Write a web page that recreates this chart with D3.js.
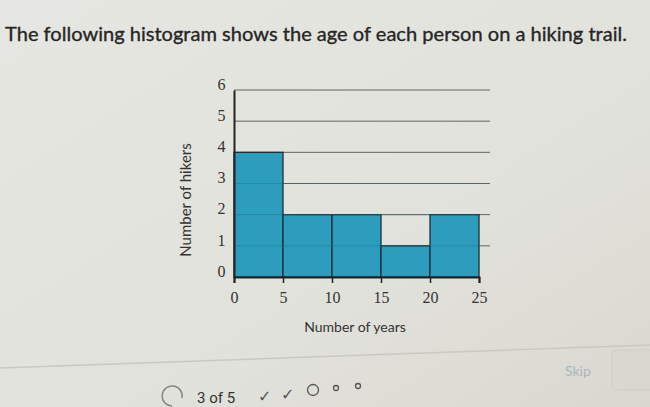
<!DOCTYPE html>
<html><head><meta charset="utf-8">
<script src="https://cdn.jsdelivr.net/npm/d3@7"></script>
<style>html,body{margin:0;padding:0;background:#e3e3dd;overflow:hidden}</style>
</head><body>
<script>
const binStarts = [0, 5, 10, 15, 20];
const binEnds = [5, 10, 15, 20, 25];
const counts = [4, 2, 2, 1, 2];
const xTicks = [0, 5, 10, 15, 20, 25];
const yTicks = [0, 1, 2, 3, 4, 5, 6];
const title = "The following histogram shows the age of each person on a hiking trail.";
const xTitle = "Number of years";
const yTitle = "Number of hikers";

const W = 650, H = 407;
const svg = d3.select("body").append("svg").attr("width", W).attr("height", H);

const bg = svg.append("defs").append("linearGradient").attr("id","bg").attr("x1","0").attr("x2","1").attr("y1","0").attr("y2","1");
bg.append("stop").attr("offset","0").attr("stop-color","#e6e6e2");
bg.append("stop").attr("offset","0.6").attr("stop-color","#e2e2dc");
bg.append("stop").attr("offset","1").attr("stop-color","#d9d8d0");
svg.append("rect").attr("width",W).attr("height",H).attr("fill","url(#bg)");

svg.append("text").attr("x",5).attr("y",41).attr("font-family","Lato").attr("font-size",20)
  .attr("fill","#262626").attr("stroke","#262626").attr("stroke-width",0.35)
  .attr("textLength",622).attr("lengthAdjust","spacingAndGlyphs").text(title);

const x = d3.scaleLinear().domain([0,25]).range([234,479]);
const y = d3.scaleLinear().domain([0,6]).range([277,90]);

// gridlines
svg.append("g").selectAll("line").data(yTicks.filter(d=>d>0)).join("line")
  .attr("x1",x(0)).attr("x2",490).attr("y1",d=>y(d)).attr("y2",d=>y(d))
  .attr("stroke","#555").attr("stroke-width",0.9);

// bars
svg.append("g").selectAll("rect").data(counts).join("rect")
  .attr("x",(d,i)=>x(binStarts[i])).attr("width",(d,i)=>x(binEnds[i])-x(binStarts[i]))
  .attr("y",d=>y(d)).attr("height",d=>y(0)-y(d))
  .attr("fill","#2c9dbd").attr("stroke","#1a2f38").attr("stroke-width",1.3);

// faint gridlines inside bars
svg.append("g").selectAll("line").data(yTicks.filter(d=>d>0 && d<4)).join("line")
  .attr("x1",x(0)).attr("x2",x(25)).attr("y1",d=>y(d)).attr("y2",d=>y(d))
  .attr("stroke","#1f6f88").attr("stroke-opacity",0.45).attr("stroke-width",1);

// axes
const xAxis = svg.append("g").attr("transform",`translate(0,${y(0)})`)
  .call(d3.axisBottom(x).tickValues(xTicks).tickSize(6).tickFormat(d3.format("d")));
xAxis.select(".domain").attr("stroke","#222").attr("stroke-width",2);
xAxis.selectAll(".tick line").attr("stroke","#222").attr("stroke-width",1.5);
xAxis.selectAll("text").attr("font-family","Liberation Serif").attr("font-size",16).attr("fill","#333").attr("dy","1.05em");

const yAxis = svg.append("g").attr("transform",`translate(${x(0)},0)`)
  .call(d3.axisLeft(y).tickValues(yTicks).tickSize(0).tickFormat(d3.format("d")));
yAxis.select(".domain").attr("stroke","#222").attr("stroke-width",2);
yAxis.selectAll("text").attr("font-family","Liberation Serif").attr("font-size",16).attr("fill","#333").attr("dx","-0.35em").attr("dy","-0.05em");

svg.append("text").attr("x",355).attr("y",332).attr("text-anchor","middle").attr("font-family","Lato")
  .attr("font-size",14).attr("fill","#333").text(xTitle);
svg.append("text").attr("transform","translate(191,200) rotate(-90)").attr("text-anchor","middle")
  .attr("font-family","Lato").attr("font-size",15).attr("fill","#333").text(yTitle);

// footer
svg.append("line").attr("x1",0).attr("x2",650).attr("y1",368).attr("y2",345).attr("stroke","#c9c9c2").attr("stroke-width",1.5);
svg.append("path").attr("d","M172,406 A10,10 0 1 1 182,398").attr("fill","none").attr("stroke","#888").attr("stroke-width",1.5);
svg.append("text").attr("x",197).attr("y",403).attr("font-family","Roboto").attr("font-size",15).attr("fill","#333").text("3 of 5");
svg.append("text").attr("x",258).attr("y",402).attr("font-family","DejaVu Sans").attr("font-size",16).attr("fill","#555").text("✓");
svg.append("text").attr("x",281).attr("y",400).attr("font-family","DejaVu Sans").attr("font-size",16).attr("fill","#555").text("✓");
svg.append("circle").attr("cx",313).attr("cy",390).attr("r",5.5).attr("fill","none").attr("stroke","#555").attr("stroke-width",1.3);
svg.append("circle").attr("cx",336).attr("cy",388).attr("r",2.5).attr("fill","none").attr("stroke","#555").attr("stroke-width",1.3);
svg.append("circle").attr("cx",358).attr("cy",386).attr("r",2.5).attr("fill","none").attr("stroke","#555").attr("stroke-width",1.3);
svg.append("text").attr("x",565).attr("y",376).attr("font-family","Lato").attr("font-size",14).attr("fill","#a9b6c2").text("Skip");
svg.append("rect").attr("x",612).attr("y",350).attr("width",45).attr("height",40).attr("rx",3).attr("fill","#d8d8cf").attr("stroke","#cfcfc6");
</script>
</body></html>
